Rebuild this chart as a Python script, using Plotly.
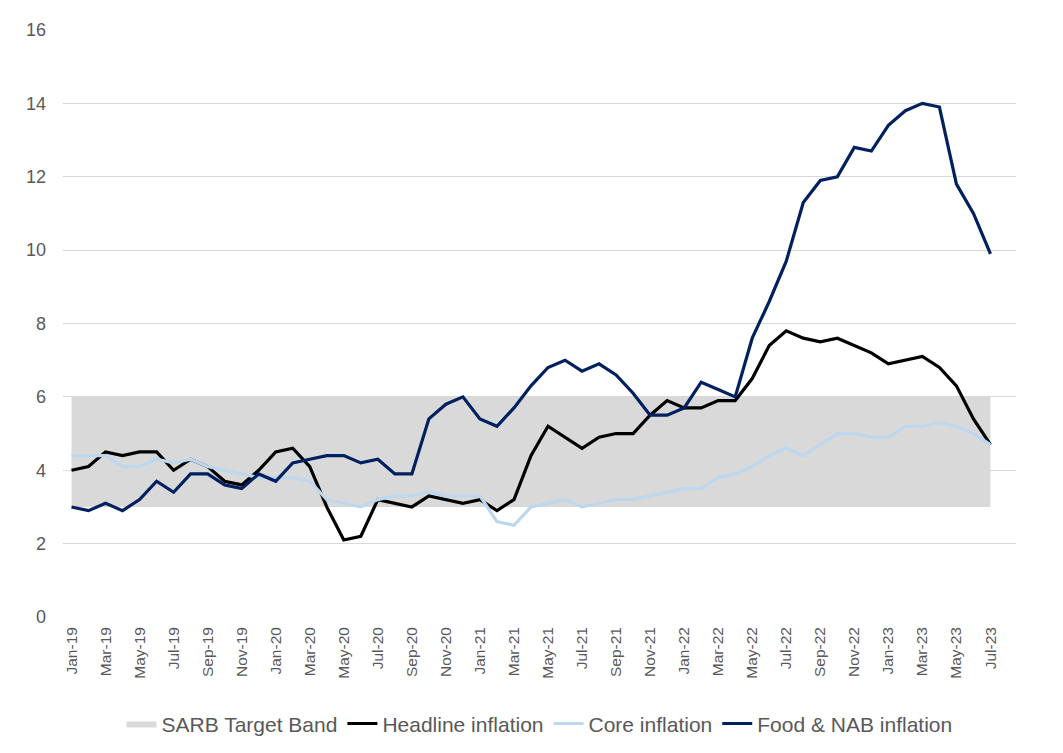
import plotly.graph_objects as go

months = [f"{m}-{y}" for y in ["19", "20", "21", "22", "23"]
          for m in ["Jan", "Feb", "Mar", "Apr", "May", "Jun", "Jul", "Aug", "Sep", "Oct", "Nov", "Dec"]][:55]

headline = [4.0, 4.1, 4.5, 4.4, 4.5, 4.5, 4.0, 4.3, 4.1, 3.7, 3.6, 4.0,
            4.5, 4.6, 4.1, 3.0, 2.1, 2.2, 3.2, 3.1, 3.0, 3.3, 3.2, 3.1,
            3.2, 2.9, 3.2, 4.4, 5.2, 4.9, 4.6, 4.9, 5.0, 5.0, 5.5, 5.9,
            5.7, 5.7, 5.9, 5.9, 6.5, 7.4, 7.8, 7.6, 7.5, 7.6, 7.4, 7.2,
            6.9, 7.0, 7.1, 6.8, 6.3, 5.4, 4.7]

core = [4.4, 4.4, 4.4, 4.1, 4.1, 4.3, 4.2, 4.3, 4.1, 4.0, 3.9, 3.8,
        3.8, 3.8, 3.7, 3.2, 3.1, 3.0, 3.2, 3.3, 3.3, 3.4, 3.3, 3.3,
        3.3, 2.6, 2.5, 3.0, 3.1, 3.2, 3.0, 3.1, 3.2, 3.2, 3.3, 3.4,
        3.5, 3.5, 3.8, 3.9, 4.1, 4.4, 4.6, 4.4, 4.7, 5.0, 5.0, 4.9,
        4.9, 5.2, 5.2, 5.3, 5.2, 5.0, 4.7]

food_nab = [3.0, 2.9, 3.1, 2.9, 3.2, 3.7, 3.4, 3.9, 3.9, 3.6, 3.5, 3.9,
            3.7, 4.2, 4.3, 4.4, 4.4, 4.2, 4.3, 3.9, 3.9, 5.4, 5.8, 6.0,
            5.4, 5.2, 5.7, 6.3, 6.8, 7.0, 6.7, 6.9, 6.6, 6.1, 5.5, 5.5,
            5.7, 6.4, 6.2, 6.0, 7.6, 8.6, 9.7, 11.3, 11.9, 12.0, 12.8, 12.7,
            13.4, 13.8, 14.0, 13.9, 11.8, 11.0, 9.9]

band_floor = 3.0
band_ceiling = 6.0
band_low = [band_floor for _ in months]
band_high = [band_ceiling for _ in months]

tick_labels = months[::2]

font_family = "Liberation Sans, Arial, sans-serif"
text_color = "#595959"

fig = go.Figure()
fig.add_trace(go.Scatter(x=months, y=band_low, mode="lines", line=dict(width=0),
                         showlegend=False, hoverinfo="skip"))
fig.add_trace(go.Scatter(x=months, y=band_high, mode="lines", line=dict(width=0),
                         fill="tonexty", fillcolor="#d9d9d9", name="SARB Target Band"))
fig.add_trace(go.Scatter(x=months, y=headline, mode="lines", name="Headline inflation",
                         line=dict(color="#000000", width=3.2)))
fig.add_trace(go.Scatter(x=months, y=core, mode="lines", name="Core inflation",
                         line=dict(color="#bdd7ee", width=3.2)))
fig.add_trace(go.Scatter(x=months, y=food_nab, mode="lines", name="Food & NAB inflation",
                         line=dict(color="#002060", width=3.2)))

fig.update_layout(
    width=1063, height=753,
    margin=dict(l=55, r=55, t=22, b=144),
    paper_bgcolor="white", plot_bgcolor="white",
    font=dict(family=font_family, color=text_color, size=17),
    legend=dict(orientation="h", x=0.5, xanchor="center", y=-0.182, yanchor="middle",
                font=dict(size=21, color=text_color), itemwidth=30, tracegroupgap=0,
                traceorder="normal"),
    showlegend=True,
)
fig.update_xaxes(type="category", categoryorder="array", categoryarray=months,
                 range=[-0.5, 55.5], tickmode="array", tickvals=tick_labels, ticktext=tick_labels,
                 tickangle=-90, tickfont=dict(size=15.5, color=text_color),
                 showgrid=False, showline=False, ticks="", ticklabelstandoff=6, zeroline=False)
fig.update_yaxes(range=[0, 16], dtick=2, showgrid=True, gridcolor="#d9d9d9", gridwidth=1,
                 zeroline=False, showline=False, ticks="", tickfont=dict(size=18, color=text_color),
                 ticklabelstandoff=16)

fig.write_html("out.html")
